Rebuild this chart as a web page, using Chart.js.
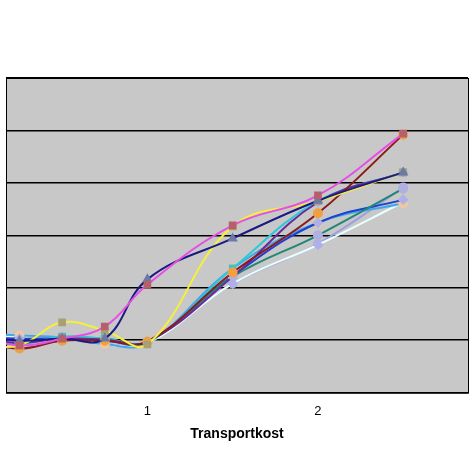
<!DOCTYPE html>
<html><head><meta charset="utf-8">
<script src="https://cdn.jsdelivr.net/npm/chart.js@4"></script>
<style>html,body{margin:0;background:#fff}#w{width:474px;height:474px}</style>
</head><body><div id="w"><canvas id="c"></canvas></div>
<script>
const xValues=[0,0.25,0.5,0.75,1,1.5,2,2.5];
const seriesNames=["A","B","C","D","E","F","G","H","I","J","K"];
const magenta=[1.09,0.90,1.03,1.26,2.06,3.19,3.76,4.94];
const navy=[1.09,0.99,1.03,1.03,2.16,2.94,3.66,4.20];
const yellow=[0.90,0.90,1.34,1.18,0.92,3.17,3.65,4.20];
const brown=[0.99,0.84,0.99,0.99,0.97,2.29,3.42,4.92];
const purple=[1.03,0.95,1.03,1.01,0.97,2.21,3.63,4.20];
const cyan=[0.80,0.90,1.07,1.03,0.95,2.37,3.65,4.20];
const teal=[0.90,0.95,1.03,1.03,0.97,2.21,3.00,3.89];
const blue=[1.05,1.03,1.03,0.99,0.97,2.23,3.24,3.68];
const sky=[1.13,1.09,1.05,0.92,0.94,2.37,3.24,3.61];
const white=[1.07,1.07,1.05,0.92,0.94,2.08,2.82,3.63];
const lavender=[0.99,1.07,1.05,0.92,0.97,2.08,2.84,3.91];
const defs=[
 [magenta,'#e64fe6','#b5606a','rect'],
 [navy,'#1a1a80','#6a7aa8','triangle'],
 [yellow,'#f5f03a','#a8a070','rect'],
 [brown,'#8b1a1a','#f0a040','circle'],
 [purple,'#6a2a9a','#b0b0e0','rectRot'],
 [cyan,'#30c8d8','#40c0c8','rect'],
 [teal,'#208878','#b0b0e0','circle'],
 [blue,'#2040d0','#b0b0e8','rectRot'],
 [sky,'#40a8e8','#f0c8a0','circle'],
 [white,'#e8ffff','#b0b0e8','rectRot'],
 [lavender,'#a0a0e0','#b0b0e8','circle']];
const bg={id:'bg',beforeDraw(ch){const a=ch.chartArea,c=ch.ctx;c.save();c.fillStyle='#c8c8c8';c.fillRect(a.left,a.top,a.right-a.left,a.bottom-a.top);c.strokeStyle='#000';c.lineWidth=1;c.strokeRect(a.left+0.5,a.top+0.5,a.right-a.left,a.bottom-a.top);c.restore();}};
new Chart(document.getElementById('c'),{type:'line',
 data:{datasets:defs.map((d,i)=>({label:seriesNames[i],data:xValues.map((x,j)=>({x,y:d[0][j]})),borderColor:d[1],backgroundColor:d[2],pointBackgroundColor:d[2],pointBorderColor:d[2],pointStyle:d[3],pointRadius:4,borderWidth:2,tension:0.4}))},
 options:{responsive:true,maintainAspectRatio:false,animation:false,
  layout:{padding:{top:78,left:0,right:0,bottom:27}},
  plugins:{legend:{display:false},tooltip:{enabled:false}},
  scales:{
   x:{type:'linear',min:0.171,max:2.88,
      grid:{display:false,drawTicks:true},border:{color:'#000'},
      ticks:{stepSize:1,color:'#000',font:{family:'Liberation Sans',size:13},callback:v=>(v===1||v===2)?String(v):''},
      title:{display:true,text:'Transportkost',color:'#000',font:{family:'Liberation Sans',size:14,weight:'bold'}}},
   y:{min:0,max:6,display:true,afterFit(s){s.width=0;},ticks:{display:false,stepSize:1},border:{display:false},
      grid:{color:'#000',lineWidth:1.5,drawTicks:false}}
  }},plugins:[bg]});
</script></body></html>
